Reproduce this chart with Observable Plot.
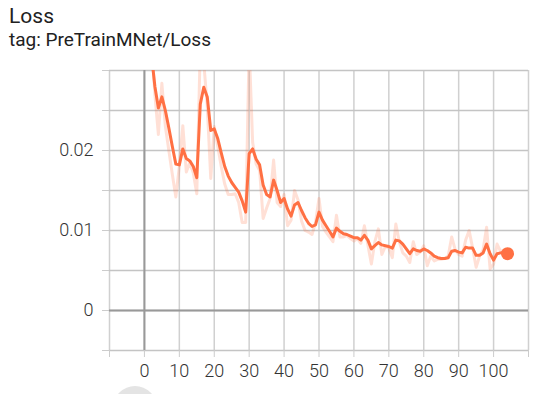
<!DOCTYPE html>
<html><head><meta charset="utf-8">
<script src="https://cdn.jsdelivr.net/npm/d3@7"></script>
<script src="https://cdn.jsdelivr.net/npm/@observablehq/plot@0.6"></script>
<style>
html,body{margin:0;padding:0;background:#fff;}
body{width:533px;height:394px;overflow:hidden;position:relative;font-family:Roboto,sans-serif;}
#head{height:56px;padding-left:9px;box-sizing:border-box;padding-top:4px;color:#212121;}
#title{font-size:21px;line-height:24px;}
#sub{font-size:19px;line-height:22px;margin-top:1px;}
#blob{position:absolute;left:113px;top:386px;width:44px;height:44px;border-radius:50%;background:#e4e4e4;}
svg{display:block;}
</style></head>
<body>
<div id="head"><div id="title">Loss</div><div id="sub">tag: PreTrainMNet/Loss</div></div>
<div id="chart"></div>
<div id="blob"></div>
<script>
const steps = d3.range(1, 105);
const smoothed = [0.0345,0.032,0.028,0.0253,0.0267,0.025,0.0228,0.0205,0.0183,0.0182,
0.0202,0.019,0.0187,0.018,0.0166,0.0258,0.0279,0.0267,0.0225,0.0227,
0.0215,0.0197,0.018,0.0168,0.016,0.0154,0.0148,0.0137,0.0123,0.0196,
0.0202,0.0189,0.0182,0.0157,0.0145,0.0142,0.0163,0.015,0.0135,0.014,
0.0127,0.0118,0.0132,0.0135,0.0125,0.0116,0.0109,0.0105,0.0107,0.0123,
0.0113,0.0106,0.0099,0.0092,0.0103,0.0099,0.0096,0.0095,0.0093,0.0091,
0.0091,0.0088,0.0094,0.0088,0.0077,0.0081,0.0085,0.0082,0.0081,0.008,
0.0078,0.0088,0.0087,0.0083,0.0077,0.0071,0.0077,0.0075,0.0074,0.0077,
0.0075,0.0072,0.0068,0.0066,0.0065,0.0065,0.0066,0.0074,0.0075,0.0073,
0.0072,0.0079,0.0078,0.0078,0.0069,0.0069,0.0072,0.0083,0.0071,0.0063,
0.0071,0.0072,0.0073,0.0071];
const raw = [0.040,0.034,0.027,0.022,0.0284,0.023,0.020,0.017,0.0142,0.018,
0.0231,0.0173,0.0185,0.0172,0.0146,0.033,0.031,0.0255,0.0165,0.023,
0.0205,0.018,0.0158,0.0145,0.0145,0.0146,0.0135,0.011,0.011,0.033,
0.021,0.0183,0.0175,0.0115,0.0128,0.014,0.0188,0.0135,0.013,0.0145,
0.0106,0.0113,0.015,0.0138,0.0112,0.010,0.0098,0.0095,0.011,0.014,
0.0105,0.0098,0.0092,0.0086,0.0119,0.0092,0.0092,0.0094,0.009,0.0087,
0.009,0.0084,0.0106,0.0082,0.0058,0.0086,0.0102,0.007,0.008,0.0078,
0.0066,0.0108,0.0086,0.0072,0.0068,0.006,0.0086,0.007,0.0073,0.0081,
0.0056,0.0068,0.0062,0.0064,0.0064,0.0065,0.0068,0.0092,0.0076,0.007,
0.0068,0.0088,0.010,0.0078,0.0054,0.0068,0.0076,0.0104,0.0052,0.0058,
0.0083,0.0074,0.0075,0.0068];
const xTicks = [-10,0,10,20,30,40,50,60,70,80,90,100,110];
const xLabels = [0,10,20,30,40,50,60,70,80,90,100];
const yTicks = [-0.005,0,0.005,0.01,0.015,0.02,0.025,0.03];
const yLabels = [0,0.01,0.02];

const data = steps.map((s,i)=>({step:s, smooth:smoothed[i], raw:raw[i]}));
const last = data[data.length-1];
const color = "#ff7043";

const chart = Plot.plot({
  width: 533, height: 338,
  marginTop: 14, marginBottom: 44, marginLeft: 109, marginRight: 5,
  style: {fontFamily: "Roboto, sans-serif", fontSize: "18px", fontWeight: 300, background: "transparent", overflow: "visible"},
  x: {domain: [-10, 110], label: null},
  y: {domain: [-0.005, 0.03], label: null},
  marks: [
    Plot.gridX(xTicks, {stroke: "#d0d0d0", strokeOpacity: 1, strokeWidth: 1.5}),
    Plot.gridY(yTicks, {stroke: "#c4c4c4", strokeOpacity: 1, strokeWidth: 1.5}),
    Plot.ruleX([0], {stroke: "#999", strokeWidth: 2}),
    Plot.ruleY([0], {stroke: "#999", strokeWidth: 2}),
    Plot.axisX(xTicks, {tickSize: 7, tickPadding: 7, stroke: "#ccc", fill: "#333", label: null,
      tickFormat: d => xLabels.includes(d) ? String(d) : ""}),
    Plot.axisY(yTicks, {tickSize: 7, tickPadding: 9, stroke: "#ccc", fill: "#333", label: null,
      tickFormat: d => yLabels.includes(d) ? String(d) : ""}),
    Plot.line(data, {x: "step", y: "raw", stroke: color, strokeOpacity: 0.22, strokeWidth: 3, clip: true}),
    Plot.line(data, {x: "step", y: "smooth", stroke: color, strokeWidth: 3, clip: true}),
    Plot.dot([last], {x: "step", y: "smooth", r: 6.5, fill: color, stroke: "none"})
  ]
});
document.getElementById("chart").appendChild(chart);
</script>
</body></html>
